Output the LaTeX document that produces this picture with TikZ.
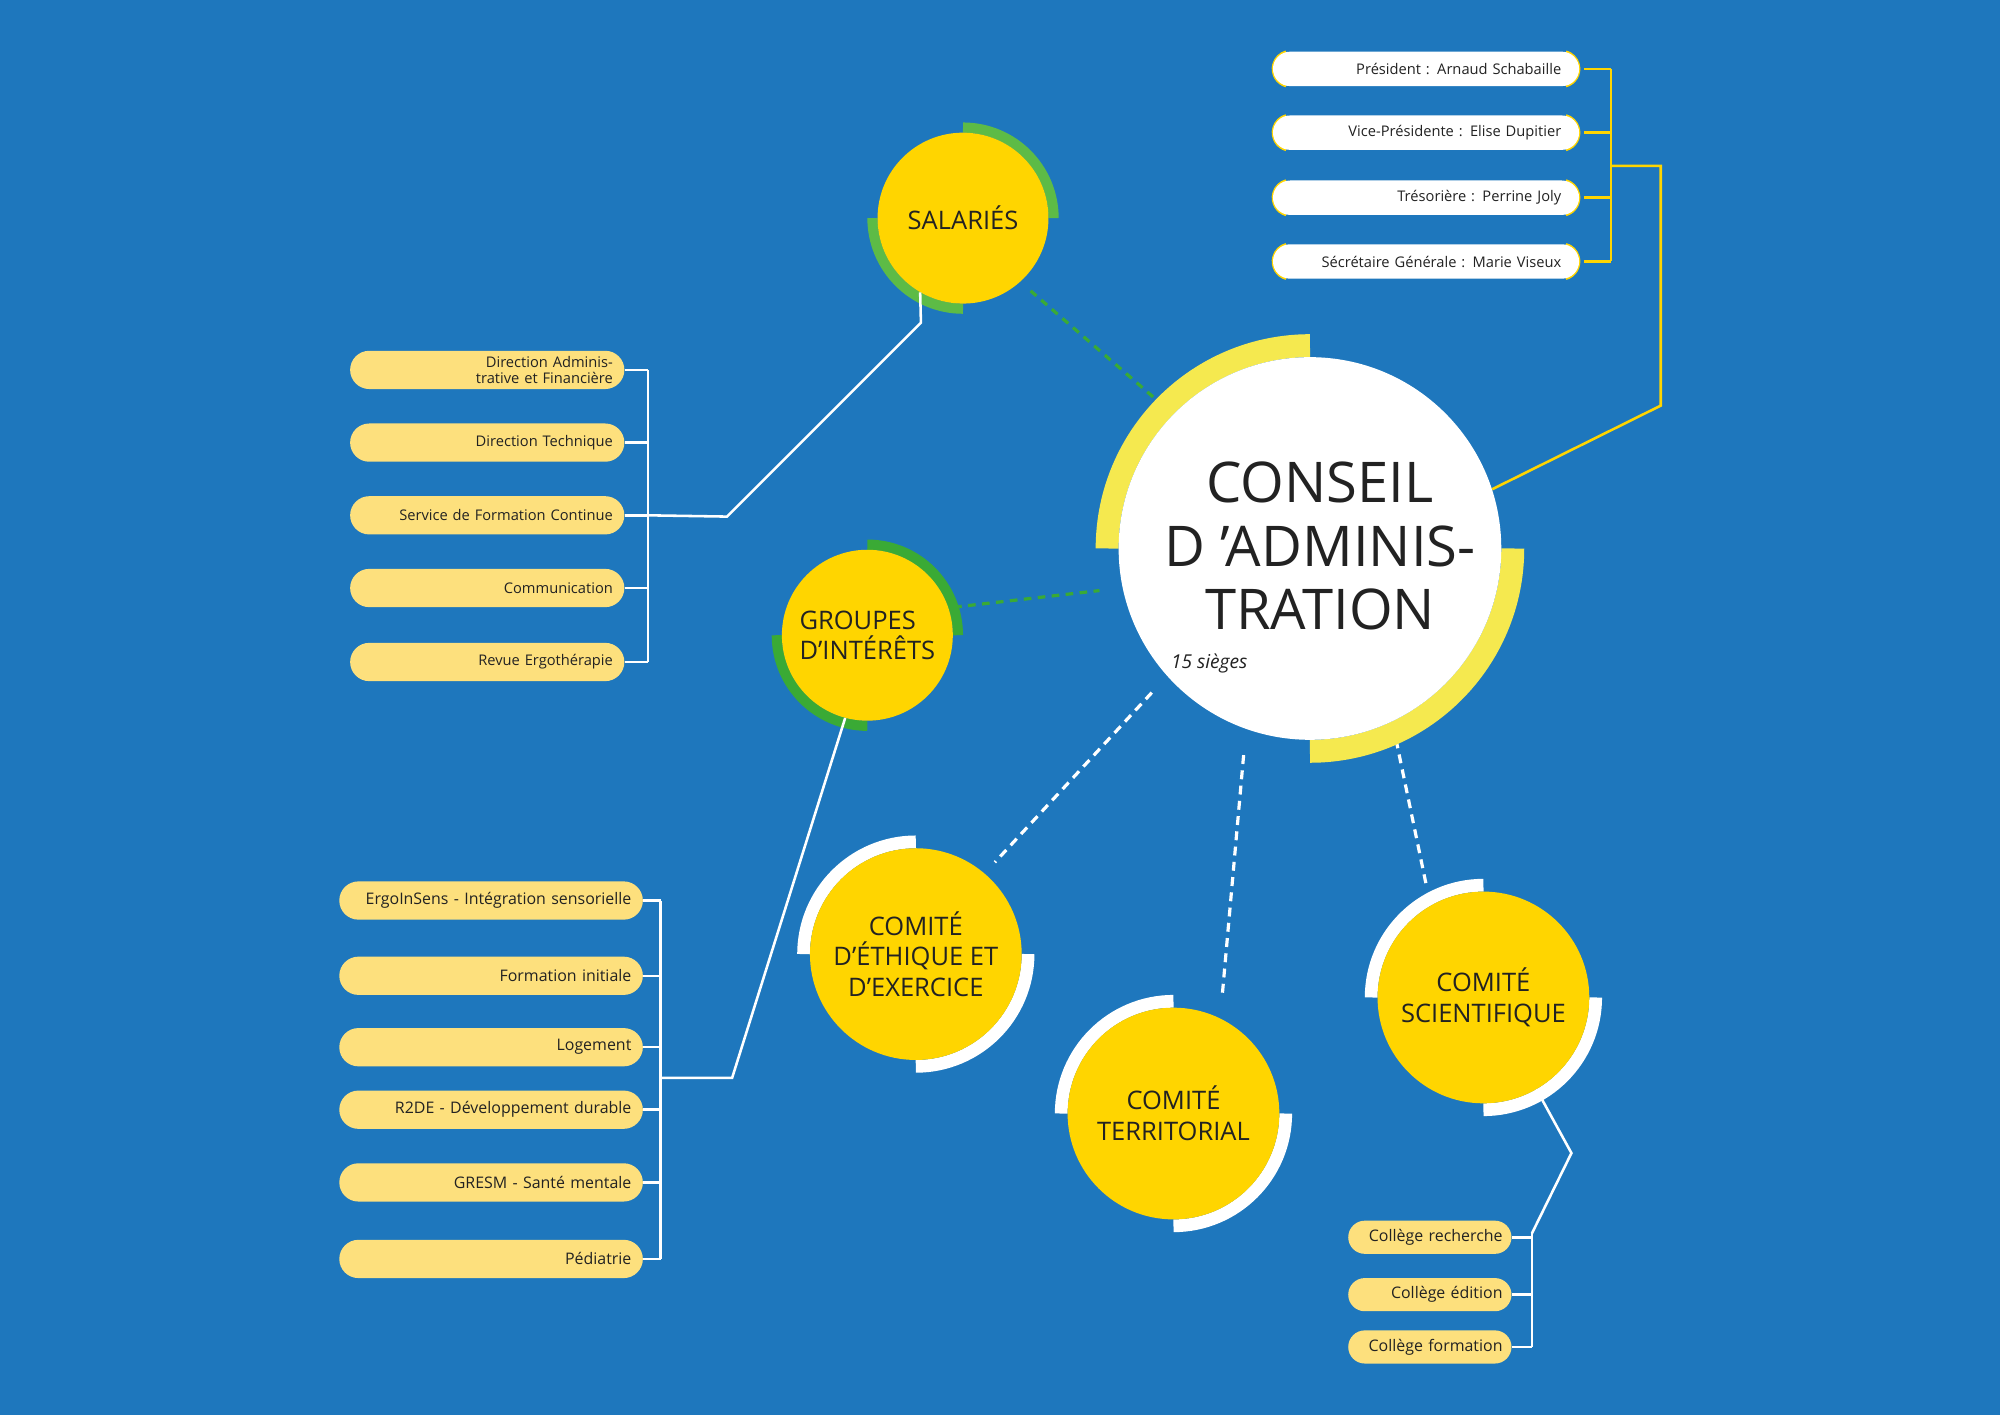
\documentclass[tikz,border=0pt]{standalone}
\usepackage{fontspec}
\setmainfont{Open Sans}
\usetikzlibrary{shapes.misc}
\definecolor{bg}{HTML}{1E77BD}
\definecolor{sun}{HTML}{FFD500}
\definecolor{pale}{HTML}{FDE07D}
\definecolor{ring}{HTML}{F5E94F}
\definecolor{gr}{HTML}{5DBB46}
\definecolor{gr2}{HTML}{3AAA35}
\definecolor{ink}{HTML}{222222}
\tikzset{
 x=1pt,y=-1pt,
 bub/.style={circle,fill=sun,minimum size=134,inner sep=0,align=center,text=ink,font=\fontsize{20}{24}\selectfont},
 com/.style={bub,minimum size=166},
 pill/.style={rounded rectangle,fill=pale,minimum height=30,inner sep=0,align=right,text=ink,font=\fontsize{12.5}{14}\selectfont},
 wpill/.style={rounded rectangle,fill=white,minimum height=27,inner sep=0,align=right,text=ink,font=\fontsize{11.5}{13}\selectfont},
 wl/.style={draw=white,line width=2},
 yl/.style={draw=sun,line width=2},
 wd/.style={draw=white,line width=2.5,dash pattern=on 7pt off 5pt},
 gd/.style={draw=gr2,line width=2.5,dash pattern=on 6pt off 5pt},
}
\begin{document}
\begin{tikzpicture}
\fill[bg] (0,0) rectangle (1568,1109);
\useasboundingbox (0,0) rectangle (1568,1109);

% dashed links
\coordinate (s1) at (808,228); \coordinate (s2) at (920,325);
\coordinate (g1) at (748,476); \coordinate (g2) at (862,463);
\coordinate (e1) at (903,543); \coordinate (e2) at (780,676);
\coordinate (t1) at (975,592); \coordinate (t2) at (958,783);
\coordinate (c1) at (1092,568); \coordinate (c2) at (1118,693);
\draw[gd] (s1) -- (s2); \draw[gd] (g1) -- (g2);
\draw[wd] (e1) -- (e2); \draw[wd] (t1) -- (t2); \draw[wd] (c1) -- (c2);

% central circle
\draw[ring,line width=18] (1027,430) ++(0:159) arc (0:90:159);
\draw[ring,line width=18] (1027,430) ++(180:159) arc (180:270:159);
\node[circle,fill=white,minimum size=300,inner sep=0] (ca) at (1027,430) {};
\node[align=center,text=ink,font=\fontsize{44}{50}\selectfont] (cat) at (1035,428) {CONSEIL\\D 'ADMINIS-\\TRATION};
\node[text=ink,font=\fontsize{15}{18}\selectfont\itshape] (seats) at (948,520) {15 sièges};

% satellites
\draw[gr,line width=8] (755,171) ++(90:71) arc (90:180:71);
\draw[gr,line width=8] (755,171) ++(270:71) arc (270:360:71);
\node[bub] (sal) at (755,171) {SALARIÉS};
\draw[gr2,line width=8] (680,498) ++(90:71) arc (90:180:71);
\draw[gr2,line width=8] (680,498) ++(270:71) arc (270:360:71);
\node[bub,align=left] (grp) at (680,498) {GROUPES\\D’INTÉRÊTS};
\foreach \n/\x/\y/\t in {eth/718/748/{COMITÉ\\D’ÉTHIQUE ET\\D’EXERCICE},ter/920/873/{COMITÉ\\TERRITORIAL},sci/1163/782/{COMITÉ\\SCIENTIFIQUE}}{
 \draw[white,line width=10] (\x,\y) ++(0:88) arc (0:90:88);
 \draw[white,line width=10] (\x,\y) ++(180:88) arc (180:270:88);
 \node[com] (\n) at (\x,\y) {\t};
}

% top-right bureau
\foreach \i/\y/\t in {1/54/{Président : Arnaud Schabaille},2/104/{Vice-Présidente : Elise Dupitier},3/155/{Trésorière : Perrine Joly},4/205/{Sécrétaire Générale : Marie Viseux}}{
 \draw[sun,line width=4] (1012,\y) ++(105:13) arc (105:255:13);
 \draw[sun,line width=4] (1224,\y) ++(75:13) arc (75:-75:13);
 \node[wpill,minimum width=240,text width=212] (b\i) at (1118,\y) {\t};
 \draw[yl] (b\i.east) ++(4,0) -- (1263,\y);
}
\draw[yl] (1263,54) -- (1263,205);
\coordinate (bm) at (1263,130);
\coordinate (bk1) at (1302,130); \coordinate (bk2) at (1302,318);
\draw[yl] (bm) -- (bk1) -- (bk2) -- (ca.18);

% salariés list
\foreach \i/\y/\t in {1/290/{Direction Administrative et Financière},2/347/{Direction Technique},3/404/{Service de Formation Continue},4/461/{Communication},5/519/{Revue Ergothérapie}}{
 \node[pill,minimum width=215,text width=197,font=\fontsize{11.5}{13}\selectfont] (sl\i) at (382,\y) {\t};
 \draw[wl] (sl\i.east) -- (508,\y);
}
\draw[wl] (508,290) -- (508,519);
\coordinate (sj1) at (508,404); \coordinate (sj2) at (570,405); \coordinate (sj3) at (722,253);
\draw[wl] (sj1) -- (sj2) -- (sj3) -- (sal.-120);

% groupes list
\foreach \i/\y/\t in {1/706/{ErgoInSens - Intégration sensorielle},2/765/{Formation initiale},3/821/{Logement},4/870/{R2DE - Développement durable},5/927/{GRESM - Santé mentale},6/987/{Pédiatrie}}{
 \node[pill,minimum width=238,text width=220] (gl\i) at (385,\y) {\t};
 \draw[wl] (gl\i.east) -- (518,\y);
}
\draw[wl] (518,706) -- (518,987);
\coordinate (gj1) at (518,845); \coordinate (gj2) at (574,845);
\draw[wl] (gj1) -- (gj2) -- (grp.-105);

% scientifique list
\foreach \i/\y/\t in {1/970/{Collège recherche},2/1015/{Collège édition},3/1056/{Collège formation}}{
 \node[pill,minimum width=128,minimum height=26,text width=114] (cl\i) at (1121,\y) {\t};
 \draw[wl] (cl\i.east) -- (1201,\y);
}
\draw[wl] (1201,967) -- (1201,1056);
\coordinate (cj1) at (1201,967); \coordinate (cj2) at (1232,904);
\draw[wl] (cj1) -- (cj2) -- (sci.-60);
\end{tikzpicture}
\end{document}
